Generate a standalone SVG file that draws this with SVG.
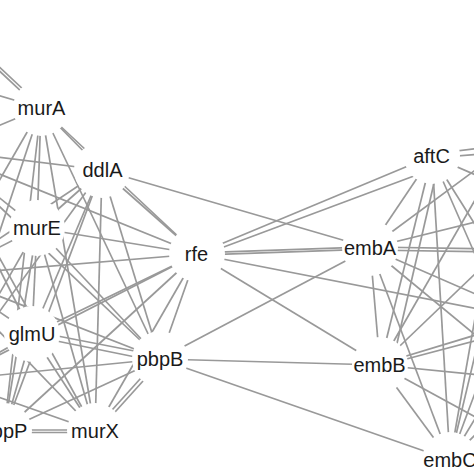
<svg xmlns="http://www.w3.org/2000/svg" width="474" height="474" viewBox="0 0 474 474">
<style>
.e{stroke:#999999;stroke-width:1.7;fill:none}
.h{fill:#ffffff}
.t{font-family:"Liberation Sans",Arial,sans-serif;font-size:20px;fill:#1a1a1a;text-anchor:middle}
</style>
<rect width="474" height="474" fill="#ffffff"/>
<g id="connectors" class="e">
<!-- murA -->
<line x1="40" y1="109" x2="-56" y2="19"/><line x1="42" y1="107" x2="-54" y2="17"/>
<line x1="41" y1="108" x2="-60" y2="78"/>
<line x1="41" y1="108" x2="-60" y2="150"/>
<line x1="41" y1="108" x2="102" y2="170"/>
<line x1="41" y1="108" x2="197" y2="254"/>
<line x1="41" y1="108" x2="37" y2="228"/>
<line x1="41" y1="108" x2="160" y2="359"/>
<line x1="41" y1="108" x2="95" y2="431"/>
<line x1="41" y1="108" x2="4" y2="431"/>
<line x1="41" y1="108" x2="-55" y2="275"/>
<line x1="41" y1="108" x2="-50" y2="380"/>
<!-- ddlA -->
<line x1="102" y1="170" x2="-60" y2="150"/>
<line x1="102" y1="170" x2="-55" y2="275"/>
<line x1="102" y1="170" x2="-50" y2="380"/>
<line x1="102" y1="170" x2="37" y2="228"/>
<line x1="102" y1="170" x2="32" y2="334"/>
<line x1="102" y1="170" x2="160" y2="359"/>
<line x1="102" y1="170" x2="95" y2="431"/>
<line x1="102" y1="170" x2="4" y2="431"/>
<line x1="102" y1="170" x2="197" y2="254"/>
<line x1="102" y1="170" x2="370" y2="248"/>
<!-- murE -->
<line x1="37" y1="228" x2="-60" y2="150"/>
<line x1="37" y1="228" x2="-55" y2="275"/>
<line x1="37" y1="228" x2="-50" y2="380"/>
<line x1="37" y1="228" x2="197" y2="254"/>
<line x1="37" y1="228" x2="32" y2="334"/>
<line x1="37" y1="228" x2="160" y2="359"/>
<line x1="37" y1="228" x2="95" y2="431"/>
<line x1="37" y1="228" x2="4" y2="431"/>
<!-- glmU -->
<line x1="32" y1="334" x2="-60" y2="150"/>
<line x1="32" y1="334" x2="-55" y2="275"/>
<line x1="32" y1="334" x2="-50" y2="380"/>
<line x1="32" y1="334" x2="197" y2="254"/>
<line x1="32" y1="331" x2="160" y2="356"/><line x1="32" y1="336" x2="160" y2="362"/>
<line x1="32" y1="334" x2="95" y2="431"/>
<line x1="32" y1="334" x2="4" y2="431"/>
<!-- pbpB -->
<line x1="160" y1="359" x2="-60" y2="150"/>
<line x1="160" y1="359" x2="-55" y2="275"/>
<line x1="160" y1="359" x2="-50" y2="380"/>
<line x1="160" y1="359" x2="197" y2="254"/>
<line x1="159" y1="358" x2="94" y2="430"/><line x1="162" y1="360" x2="97" y2="432"/>
<line x1="160" y1="359" x2="4" y2="431"/>
<line x1="160" y1="359" x2="370" y2="248"/>
<line x1="160" y1="359" x2="380" y2="365"/>
<line x1="160" y1="359" x2="450" y2="460"/>
<!-- murX / uppP -->
<line x1="95" y1="430" x2="4" y2="430"/><line x1="95" y1="432.5" x2="4" y2="432.5"/>
<line x1="95" y1="431" x2="197" y2="254"/>
<line x1="95" y1="431" x2="-55" y2="275"/>
<line x1="95" y1="431" x2="-60" y2="150"/>
<line x1="95" y1="431" x2="-50" y2="380"/>
<line x1="4" y1="431" x2="197" y2="254"/>
<!-- rfe -->
<line x1="197" y1="254" x2="-60" y2="150"/>
<line x1="197" y1="254" x2="-55" y2="275"/>
<line x1="197" y1="254" x2="-50" y2="380"/>
<line x1="197" y1="254" x2="432" y2="156"/>
<line x1="197" y1="257" x2="430" y2="170"/>
<line x1="197" y1="252.8" x2="370" y2="246.8"/><line x1="197" y1="255.2" x2="370" y2="249.2"/>
<line x1="197" y1="254" x2="380" y2="365"/>
<line x1="197" y1="254" x2="535" y2="320"/>
<!-- aftC -->
<line x1="432" y1="154" x2="505" y2="145"/><line x1="432" y1="158" x2="505" y2="152"/>
<line x1="432" y1="156" x2="545" y2="205"/>
<line x1="432" y1="156" x2="535" y2="320"/>
<line x1="432" y1="156" x2="530" y2="380"/>
<line x1="432" y1="156" x2="370" y2="248"/>
<line x1="432" y1="156" x2="380" y2="365"/>
<line x1="440" y1="157" x2="392" y2="365"/>
<line x1="432" y1="156" x2="450" y2="460"/>
<!-- embA -->
<line x1="370" y1="248" x2="505" y2="148"/>
<line x1="370" y1="248" x2="545" y2="205"/>
<line x1="370" y1="247" x2="500" y2="249"/><line x1="370" y1="250" x2="500" y2="252"/>
<line x1="370" y1="248" x2="535" y2="320"/>
<line x1="370" y1="248" x2="530" y2="380"/>
<line x1="370" y1="248" x2="380" y2="365"/>
<line x1="370" y1="248" x2="450" y2="460"/>
<!-- embB -->
<line x1="380" y1="365" x2="505" y2="148"/>
<line x1="380" y1="365" x2="500" y2="250"/>
<line x1="380" y1="364" x2="535" y2="317"/><line x1="380" y1="366" x2="535" y2="325"/>
<line x1="380" y1="365" x2="530" y2="380"/>
<line x1="380" y1="365" x2="545" y2="455"/>
<line x1="380" y1="365" x2="450" y2="460"/>
<!-- embC -->
<line x1="450" y1="460" x2="505" y2="148"/>
<line x1="450" y1="460" x2="500" y2="250"/>
<line x1="450" y1="460" x2="535" y2="320"/>
<line x1="450" y1="460" x2="530" y2="380"/>
<line x1="450" y1="460" x2="545" y2="205"/>
</g>
<g id="murA"><circle class="h" cx="41" cy="108" r="28"/><text class="t" x="41.5" y="115">murA</text></g>
<g id="ddlA"><circle class="h" cx="102" cy="170" r="28"/><text class="t" x="102.5" y="177">ddlA</text></g>
<g id="murE"><circle class="h" cx="37" cy="228" r="28"/><text class="t" x="37" y="235">murE</text></g>
<g id="rfe"><circle class="h" cx="197" cy="254" r="28"/><text class="t" x="196.5" y="261">rfe</text></g>
<g id="glmU"><circle class="h" cx="32" cy="334" r="28"/><text class="t" x="32" y="341">glmU</text></g>
<g id="pbpB"><circle class="h" cx="160" cy="359" r="28"/><text class="t" x="160" y="366">pbpB</text></g>
<g id="murX"><circle class="h" cx="95" cy="431" r="28"/><text class="t" x="95" y="438">murX</text></g>
<g id="uppP"><circle class="h" cx="4" cy="431" r="28"/><text class="t" x="4" y="438">uppP</text></g>
<g id="aftC"><circle class="h" cx="432" cy="156" r="28"/><text class="t" x="431.5" y="163">aftC</text></g>
<g id="embA"><circle class="h" cx="370" cy="248" r="28"/><text class="t" x="370" y="255">embA</text></g>
<g id="embB"><circle class="h" cx="380" cy="365" r="28"/><text class="t" x="379.5" y="372">embB</text></g>
<g id="embC"><circle class="h" cx="450" cy="460" r="28"/><text class="t" x="450" y="467">embC</text></g>
</svg>
